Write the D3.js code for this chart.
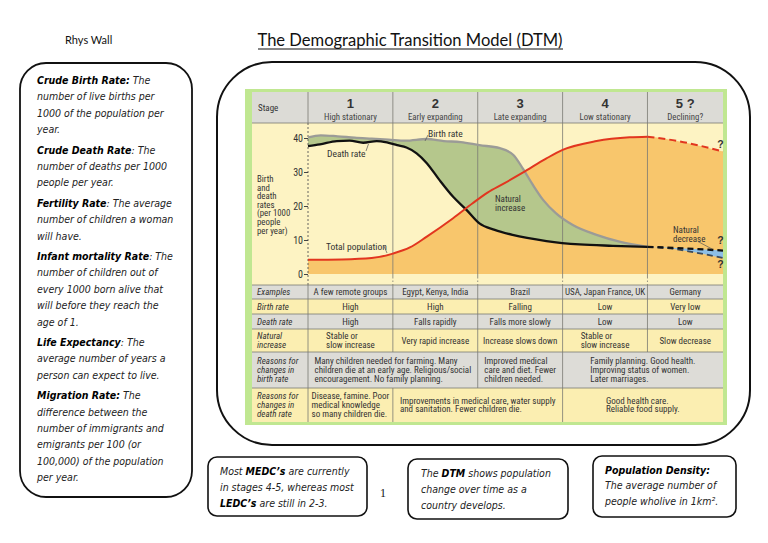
<!DOCTYPE html>
<html><head><meta charset="utf-8">
<script src="https://cdn.jsdelivr.net/npm/d3@7"></script>
<style>body{margin:0;background:#fff}svg{display:block}</style>
</head><body>
<svg id="c" width="768" height="543"></svg>
<script>
// ---------------- DATA ----------------
const stageNumbers = ["1", "2", "3", "4", "5 ?"];
const stageNames = ["High stationary", "Early expanding", "Late expanding", "Low stationary", "Declining?"];
const yTicks = [0, 10, 20, 30, 40];
const yAxisLabel = ["Birth", "and", "death", "rates", "(per 1000", "people", "per year)"];

// time in "stage units" (0 = start of stage 1, 4 = start of stage 5)
const birthT = [0, 0.15, 0.35, 0.55, 0.75, 0.95, 1.15, 1.4, 1.6, 1.8, 2.02, 2.26, 2.42, 2.53, 2.65, 2.77, 2.92, 3.12, 3.4, 3.67, 4.0];
const birthV = [40.2, 40.8, 40.5, 40.1, 39.8, 39.5, 39.2, 39.7, 39.1, 38.8, 37.9, 37.0, 35.0, 31.1, 26.2, 21.8, 17.9, 14.4, 11.5, 9.5, 8.0];
const deathT = [0, 0.14, 0.34, 0.49, 0.65, 0.81, 0.93, 1.05, 1.16, 1.28, 1.4, 1.55, 1.71, 1.87, 2.02, 2.2, 2.41, 2.81, 3.2, 3.59, 4.0];
const deathV = [37.6, 38.1, 39.1, 39.2, 38.6, 39.1, 38.7, 37.9, 37.2, 35.5, 32.6, 27.6, 22.7, 18.8, 14.9, 13.0, 11.5, 9.7, 8.7, 8.3, 8.0];
const popT = [0, 0.4, 0.75, 1.0, 1.2, 1.4, 1.71, 1.94, 2.12, 2.3, 2.53, 2.81, 3.0, 3.4, 3.79, 4.0];
const popV = [4.2, 4.3, 4.7, 6.0, 7.8, 11.0, 16.4, 20.8, 24.0, 26.5, 29.8, 34.0, 36.5, 39.1, 40.2, 40.4];
// stage 5 (projected, dashed)
const birth5T = [4.0, 4.2, 4.5, 4.89];
const birth5V = [8.0, 7.7, 6.6, 4.7];
const death5T = [4.0, 4.45, 4.89];
const death5V = [8.0, 7.5, 6.9];
const pop5T = [4.0, 4.38, 4.89];
const pop5V = [40.4, 39.0, 36.0];

// table
const rowLabels = [["Examples"], ["Birth rate"], ["Death rate"], ["Natural", "increase"], ["Reasons for", "changes in", "birth rate"], ["Reasons for", "changes in", "death rate"]];
const examples = ["A few remote groups", "Egypt, Kenya, India", "Brazil", "USA, Japan France, UK", "Germany"];
const birthRates = ["High", "High", "Falling", "Low", "Very low"];
const deathRates = ["High", "Falls rapidly", "Falls more slowly", "Low", "Low"];
const naturalIncrease = [["Stable or", "slow increase"], ["Very rapid increase"], ["Increase slows down"], ["Stable or", "slow increase"], ["Slow decrease"]];
const birthReasons = [
  {stages: [0, 2], lines: ["Many children needed for farming. Many", "children die at an early age. Religious/social", "encouragement. No family planning."]},
  {stages: [2, 3], lines: ["Improved medical", "care and diet. Fewer", "children needed."]},
  {stages: [3, 5], lines: ["Family planning. Good health.", "Improving status of women.", "Later marriages."]}
];
const deathReasons = [
  {stages: [0, 1], lines: ["Disease, famine. Poor", "medical knowledge", "so many children die."]},
  {stages: [1, 3], lines: ["Improvements in medical care, water supply", "and sanitation. Fewer children die."]},
  {stages: [3, 5], lines: ["Good health care.", "Reliable food supply."]}
];

// glossary
const glossary = [
  {term: "Crude Birth Rate:", rest: " The", lines: ["number of live births per", "1000 of the population per", "year."]},
  {term: "Crude Death Rate", rest: ": The", lines: ["number of deaths per 1000", "people per year."]},
  {term: "Fertility Rate", rest: ": The average", lines: ["number of children a woman", "will have."]},
  {term: "Infant mortality Rate", rest: ": The", lines: ["number of children out of", "every 1000 born alive that", "will before they reach the", "age of 1."]},
  {term: "Life Expectancy", rest: ": The", lines: ["average number of years a", "person can expect to live."]},
  {term: "Migration Rate:", rest: " The", lines: ["difference between the", "number of immigrants and", "emigrants per 100 (or", "100,000) of the population", "per year."]}
];
const noteMEDC = [[["Most ", 0], ["MEDC\u2019s", 1], [" are currently", 0]], [["in stages 4-5, whereas most", 0]], [["LEDC\u2019s", 1], [" are still in 2-3.", 0]]];
const noteDTM = [[["The ", 0], ["DTM", 1], [" shows population", 0]], [["change over time as a", 0]], [["country develops.", 0]]];
const noteDensity = [[["Population Density:", 1]], [["The average number of", 0]], [["people wholive in 1km\u00b2.", 0]]];

// ---------------- DRAWING ----------------
const svg = d3.select("#c");
const FT = "'Liberation Sans Narrow','Arial Narrow','Roboto Condensed',sans-serif";
const FG = "'DejaVu Sans Condensed','DejaVu Sans',Verdana,sans-serif";
const C = {green: "#c0e791", head: "#dcdbd6", pale: "#fdf3c3", orange: "#f8c66c", nat: "#b5c78c",
  red: "#e2361f", birth: "#9b9b97", blue: "#8dbfe6", rowY: "#fbeeb1", rowG: "#dddcd7", grid: "#7a7a72"};

// header
svg.append("text").attr("x", 65).attr("y", 44).attr("font-family", "Lato, sans-serif").attr("font-size", 11)
  .attr("fill", "#111").text("Rhys Wall");
svg.append("text").attr("x", 410).attr("y", 46).attr("text-anchor", "middle")
  .attr("font-family", "Lato, sans-serif").attr("font-size", 17).attr("fill", "#111")
  .attr("textLength", 305).attr("lengthAdjust", "spacingAndGlyphs")
  .text("The Demographic Transition Model (DTM)");
svg.append("line").attr("x1", 258).attr("x2", 563).attr("y1", 49).attr("y2", 49).attr("stroke", "#111").attr("stroke-width", 1.1);

// left glossary box
svg.append("rect").attr("x", 20).attr("y", 63).attr("width", 172).attr("height", 434).attr("rx", 26).attr("ry", 26)
  .attr("fill", "#fff").attr("stroke", "#111").attr("stroke-width", 1.8);
{
  let y = 84;
  glossary.forEach((g, gi) => {
    if (gi > 0) y += 20.4;
    const t = svg.append("text").attr("x", 37).attr("y", y).attr("font-family", FG).attr("font-size", 10.5)
      .attr("font-style", "italic").attr("fill", "#222");
    t.append("tspan").attr("font-weight", "bold").attr("fill", "#000").text(g.term);
    t.append("tspan").text(g.rest);
    g.lines.forEach(l => {
      y += 16.4;
      svg.append("text").attr("x", 37).attr("y", y).attr("font-family", FG).attr("font-size", 10.5)
        .attr("font-style", "italic").attr("fill", "#222").text(l);
    });
  });
}

// big rounded box
svg.append("rect").attr("x", 217).attr("y", 62).attr("width", 533).attr("height", 383).attr("rx", 55).attr("ry", 55)
  .attr("fill", "#fff").attr("stroke", "#111").attr("stroke-width", 2);

// chart frame
const L = 252, R = 723, TOP = 92, HEADB = 123, TABT = 285;
svg.append("rect").attr("x", 245).attr("y", 89).attr("width", 482).attr("height", 336).attr("fill", C.green);
svg.append("rect").attr("x", L).attr("y", TOP).attr("width", R - L).attr("height", 330).attr("fill", C.pale);
svg.append("rect").attr("x", L).attr("y", TOP).attr("width", R - L).attr("height", HEADB - TOP).attr("fill", C.head);

const X = d3.scaleLinear().domain([0, 4.89]).range([308, R]);
const Y = d3.scaleLinear().domain([0, 40]).range([274, 138]);
const edges = [0, 1, 2, 3, 4, 4.89];

const zip = (t, v) => t.map((d, i) => [d, v[i]]);
const birth = zip(birthT, birthV), death = zip(deathT, deathV), pop = zip(popT, popV);
const birth5 = zip(birth5T, birth5V), death5 = zip(death5T, death5V), pop5 = zip(pop5T, pop5V);
const curve = d3.curveMonotoneX;
const line = d3.line().x(d => X(d[0])).y(d => Y(d[1])).curve(curve);
const areaBelow = d3.area().x(d => X(d[0])).y0(Y(0)).y1(d => Y(d[1])).curve(curve);
const areaAbove = d3.area().x(d => X(d[0])).y0(HEADB).y1(d => Y(d[1])).curve(curve);

// orange: total population
svg.append("path").attr("d", areaBelow(pop.concat(pop5.slice(1)))).attr("fill", C.orange);

// green natural increase: below birth rate, clipped to above death rate
const defs = svg.append("defs");
defs.append("clipPath").attr("id", "aboveDeath").append("path").attr("d", areaAbove(death));
svg.append("path").attr("d", areaBelow(birth)).attr("fill", C.nat).attr("clip-path", "url(#aboveDeath)");
// blue natural decrease: below death rate, above birth rate (stage 5)
defs.append("clipPath").attr("id", "aboveBirth5").append("path").attr("d", areaAbove(birth5));
svg.append("path").attr("d", areaBelow(death5)).attr("fill", C.blue).attr("clip-path", "url(#aboveBirth5)");

// grid: header/stage separators
const gridG = svg.append("g").attr("stroke", C.grid).attr("stroke-width", 0.8);
gridG.append("line").attr("x1", L).attr("x2", R).attr("y1", HEADB).attr("y2", HEADB);
gridG.append("line").attr("x1", 308).attr("x2", 308).attr("y1", TOP).attr("y2", HEADB);
edges.slice(1, 5).forEach(e => {
  gridG.append("line").attr("x1", X(e)).attr("x2", X(e)).attr("y1", TOP).attr("y2", Y(0) + 3);
  gridG.append("line").attr("x1", X(e)).attr("x2", X(e)).attr("y1", Y(0) + 3).attr("y2", TABT).attr("stroke-dasharray", "1.5,2");
});
// y-axis dotted line
svg.append("line").attr("x1", 308).attr("x2", 308).attr("y1", HEADB).attr("y2", TABT)
  .attr("stroke", "#555").attr("stroke-width", 0.9).attr("stroke-dasharray", "2,2");

// curves
svg.append("path").attr("d", line(birth)).attr("fill", "none").attr("stroke", C.birth).attr("stroke-width", 2.3);
svg.append("path").attr("d", line(death)).attr("fill", "none").attr("stroke", "#111").attr("stroke-width", 2.3);
svg.append("path").attr("d", line(birth5)).attr("fill", "none").attr("stroke", "#3c4a5a").attr("stroke-width", 1.8).attr("stroke-dasharray", "6,4");
svg.append("path").attr("d", line(death5)).attr("fill", "none").attr("stroke", "#111").attr("stroke-width", 2.3).attr("stroke-dasharray", "6,4");
svg.append("path").attr("d", line(pop)).attr("fill", "none").attr("stroke", C.red).attr("stroke-width", 2);
svg.append("path").attr("d", line(pop5)).attr("fill", "none").attr("stroke", C.red).attr("stroke-width", 2).attr("stroke-dasharray", "7,4");

// y axis ticks
const ax = svg.append("g").attr("transform", "translate(308,0)")
  .call(d3.axisLeft(Y).tickValues(yTicks).tickSize(4).tickPadding(1).tickFormat(d3.format("d")));
ax.select(".domain").remove();
ax.selectAll("line").attr("stroke", "#444");
ax.selectAll("text").attr("font-family", FT).attr("font-size", 10).attr("fill", "#333");

// header texts
svg.append("text").attr("x", 258).attr("y", 111).attr("font-family", FT).attr("font-size", 9).attr("fill", "#333").text("Stage");
stageNumbers.forEach((s, i) => {
  const cx = (X(edges[i]) + X(edges[i + 1])) / 2;
  svg.append("text").attr("x", cx).attr("y", 107.5).attr("text-anchor", "middle").attr("font-family", "'Liberation Sans',Arial,sans-serif")
    .attr("font-weight", "bold").attr("font-size", 13).attr("fill", "#333").text(s);
  svg.append("text").attr("x", cx).attr("y", 119.5).attr("text-anchor", "middle").attr("font-family", FT)
    .attr("font-size", 8.8).attr("fill", "#444").text(stageNames[i]);
});
yAxisLabel.forEach((l, i) => svg.append("text").attr("x", 257).attr("y", 182 + i * 8.6).attr("font-family", FT)
  .attr("font-size", 8.8).attr("fill", "#333").text(l));

// annotations
const ann = (x, y, lines, size) => lines.forEach((l, i) => svg.append("text").attr("x", x).attr("y", y + i * 9.8)
  .attr("font-family", FT).attr("font-size", size || 9.5).attr("fill", "#333").text(l));
const lead = (x1, y1, x2, y2) => svg.append("line").attr("x1", x1).attr("y1", y1).attr("x2", x2).attr("y2", y2)
  .attr("stroke", "#555").attr("stroke-width", 0.7);
ann(428, 136.5, ["Birth rate"]); lead(428, 135, 425, 141);
ann(327, 156.5, ["Death rate"]); lead(366, 151, 368.5, 144);
ann(326, 249.5, ["Total population"]); lead(383.5, 245, 387, 253);
ann(495, 201.5, ["Natural", "increase"], 9);
ann(673, 232.5, ["Natural", "decrease"], 9); lead(698, 241.5, 712, 249);
[[720.5, 147.5], [720.5, 243.5], [720.5, 267.5]].forEach(p => svg.append("text").attr("x", p[0]).attr("y", p[1])
  .attr("text-anchor", "middle").attr("font-family", "'Liberation Sans',Arial,sans-serif").attr("font-weight", "bold")
  .attr("font-size", 10.5).attr("fill", "#333").text("?"));

// table
const rowEdges = [TABT, 299, 314, 329, 352, 388, 422];
const rows = [
  examples.map((s, i) => ({stages: [i, i + 1], lines: [s]})),
  birthRates.map((s, i) => ({stages: [i, i + 1], lines: [s]})),
  deathRates.map((s, i) => ({stages: [i, i + 1], lines: [s]})),
  naturalIncrease.map((s, i) => ({stages: [i, i + 1], lines: s})),
  birthReasons, deathReasons
];
const LH = 8.7;
function block(cx, cy, lines, opts) {
  const n = lines.length;
  const g = svg.append("g");
  const ts = lines.map((l, i) => g.append("text").attr("x", cx).attr("y", cy - (n - 1) * LH / 2 + i * LH + 3.1)
    .attr("font-family", FT).attr("font-size", 9).attr("fill", "#333")
    .attr("font-style", opts && opts.italic ? "italic" : null).text(l));
  if (opts && opts.left) { ts.forEach(t => t.attr("x", opts.left)); return; }
  if (n > 1) {
    const w = d3.max(ts, t => t.node().getComputedTextLength());
    ts.forEach(t => t.attr("x", cx - w / 2));
  } else ts.forEach(t => t.attr("text-anchor", "middle"));
}
rows.forEach((cells, r) => {
  const y0 = rowEdges[r], y1 = rowEdges[r + 1];
  svg.append("rect").attr("x", L).attr("y", y0).attr("width", R - L).attr("height", y1 - y0)
    .attr("fill", r % 2 === 0 ? C.rowG : C.rowY);
  svg.append("line").attr("x1", L).attr("x2", R).attr("y1", y0).attr("y2", y0).attr("stroke", C.grid).attr("stroke-width", 0.8);
  svg.append("line").attr("x1", 308).attr("x2", 308).attr("y1", y0).attr("y2", y1).attr("stroke", C.grid).attr("stroke-width", 0.8);
  block(0, (y0 + y1) / 2, rowLabels[r], {italic: true, left: 257});
  cells.forEach((c, k) => {
    const xa = X(edges[c.stages[0]]), xb = X(edges[c.stages[1]]);
    if (k > 0) svg.append("line").attr("x1", xa).attr("x2", xa).attr("y1", y0).attr("y2", y1).attr("stroke", C.grid).attr("stroke-width", 0.8);
    block((xa + xb) / 2, (y0 + y1) / 2, c.lines);
  });
});

// bottom notes
function note(x, y, w, h, lines, tx, ty) {
  svg.append("rect").attr("x", x).attr("y", y).attr("width", w).attr("height", h).attr("rx", 9).attr("ry", 9)
    .attr("fill", "#fff").attr("stroke", "#111").attr("stroke-width", 1.6);
  lines.forEach((segs, i) => {
    const t = svg.append("text").attr("x", tx).attr("y", ty + i * 15.8).attr("font-family", FG).attr("font-size", 10.5)
      .attr("font-style", "italic").attr("fill", "#222");
    segs.forEach(s => t.append("tspan").attr("font-weight", s[1] ? "bold" : null).attr("fill", s[1] ? "#000" : null).text(s[0]));
  });
}
note(208, 457, 159, 59, noteMEDC, 220, 475);
note(408, 459, 160, 60, noteDTM, 421, 477);
note(593, 456, 143, 61, noteDensity, 605, 473.5);
svg.append("text").attr("x", 383).attr("y", 497).attr("text-anchor", "middle").attr("font-family", "'Liberation Serif',serif")
  .attr("font-size", 12).attr("fill", "#111").text("1");
</script>
</body></html>
